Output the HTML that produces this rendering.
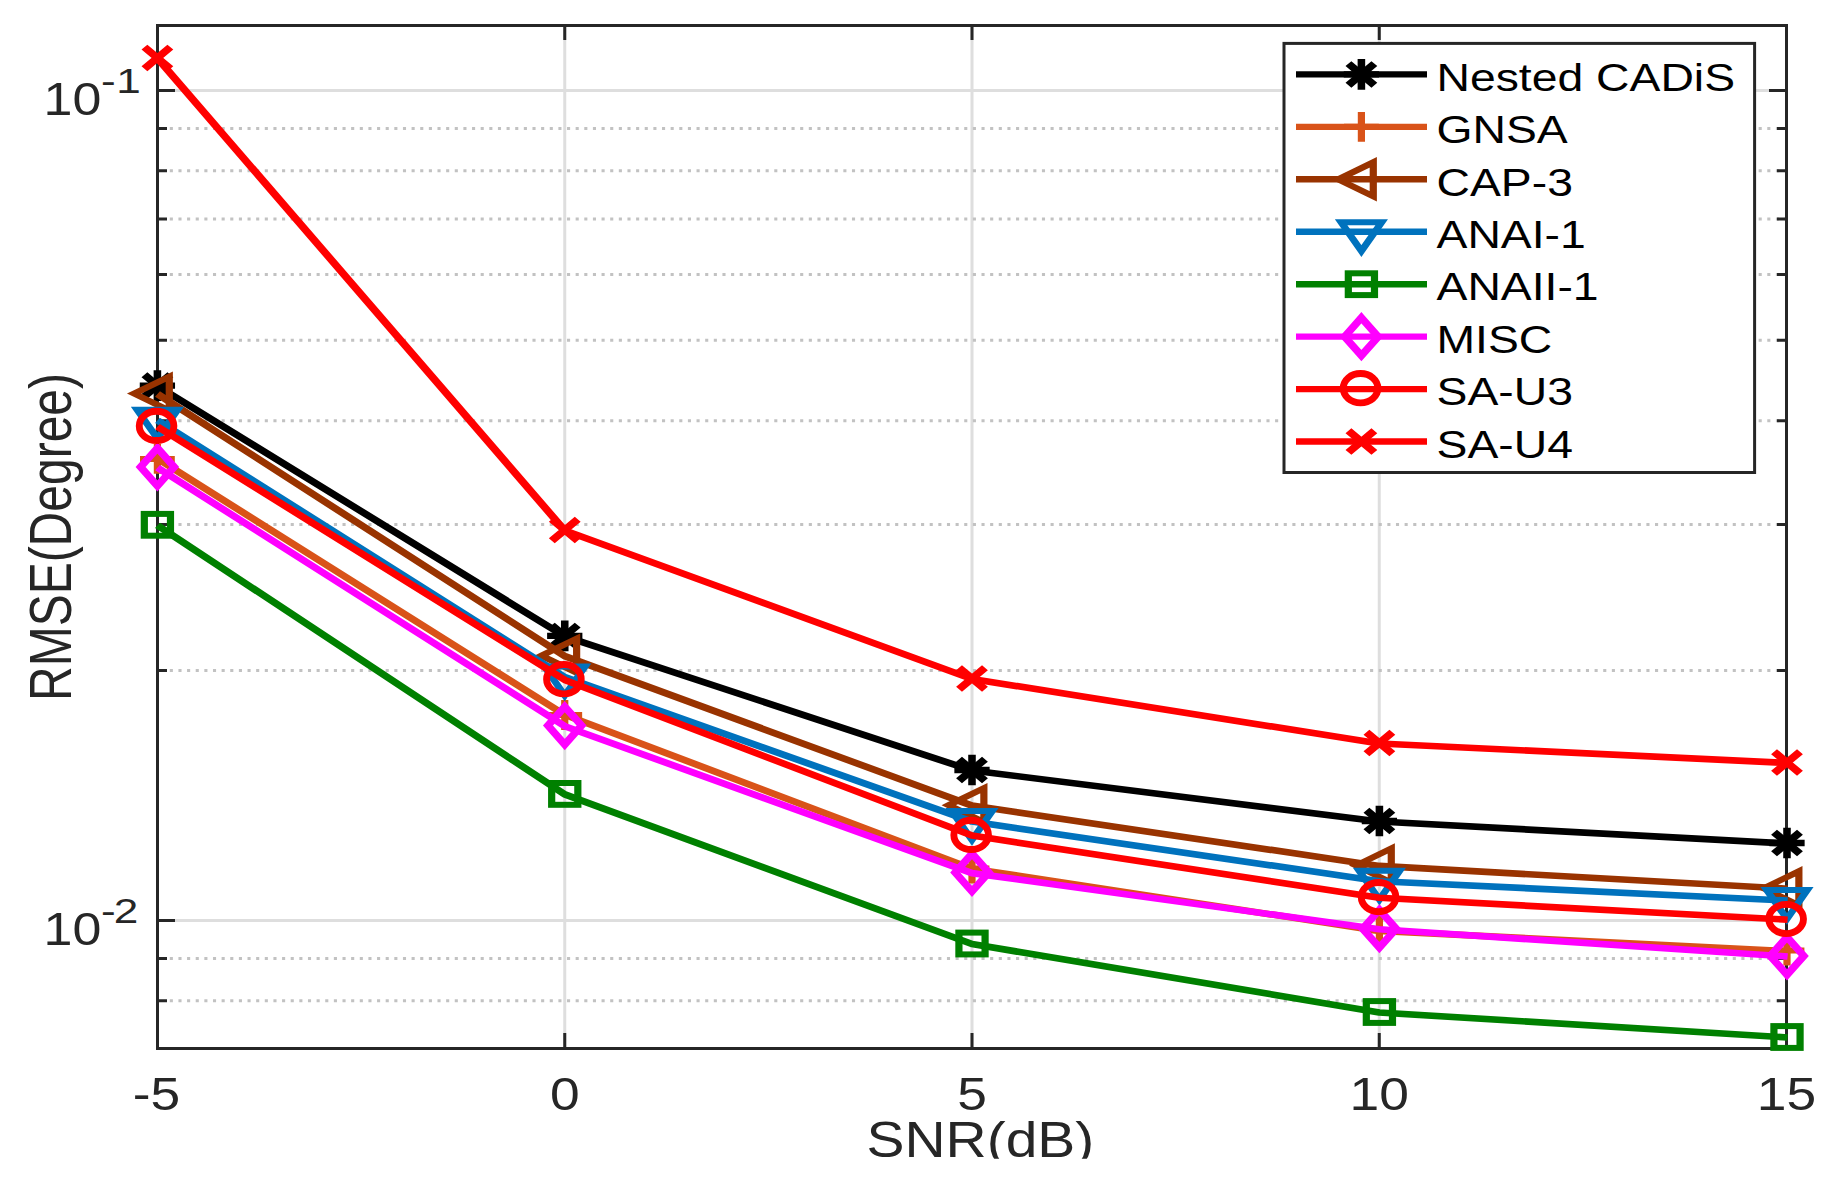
<!DOCTYPE html>
<html lang="en"><head><meta charset="utf-8"><title>RMSE versus SNR</title>
<style>html,body{margin:0;padding:0;background:#fff}svg{display:block}text{font-family:"Liberation Sans",sans-serif}</style></head><body>
<svg width="1830" height="1181" viewBox="0 0 1830 1181">
<rect width="1830" height="1181" fill="#fff"/>
<g stroke="#dedede" stroke-width="3" fill="none">
<path d="M564.75,25.5V1048.5"/>
<path d="M972.00,25.5V1048.5"/>
<path d="M1379.25,25.5V1048.5"/>
<path d="M157.5,90.40H1786.5"/>
<path d="M157.5,920.40H1786.5"/>
</g>
<g stroke="#c2c2c2" stroke-width="3" fill="none" stroke-dasharray="3.1 5.535">
<path d="M169.8,670.55H1786.5"/>
<path d="M169.8,524.39H1786.5"/>
<path d="M169.8,420.69H1786.5"/>
<path d="M169.8,340.25H1786.5"/>
<path d="M169.8,274.53H1786.5"/>
<path d="M169.8,218.97H1786.5"/>
<path d="M169.8,170.84H1786.5"/>
<path d="M169.8,128.38H1786.5"/>
<path d="M169.8,1000.84H1786.5"/>
<path d="M169.8,958.38H1786.5"/>
</g>
<g stroke="#262626" stroke-width="3" fill="none">
<path d="M564.75,1048.5v-15.5M564.75,25.5v14.5"/>
<path d="M972.00,1048.5v-15.5M972.00,25.5v14.5"/>
<path d="M1379.25,1048.5v-15.5M1379.25,25.5v14.5"/>
<path d="M157.5,90.40h17.5M1786.5,90.40h-17.5"/>
<path d="M157.5,920.40h17.5M1786.5,920.40h-17.5"/>
<path d="M157.5,670.55h9.5M1786.5,670.55h-9.5"/>
<path d="M157.5,524.39h9.5M1786.5,524.39h-9.5"/>
<path d="M157.5,420.69h9.5M1786.5,420.69h-9.5"/>
<path d="M157.5,340.25h9.5M1786.5,340.25h-9.5"/>
<path d="M157.5,274.53h9.5M1786.5,274.53h-9.5"/>
<path d="M157.5,218.97h9.5M1786.5,218.97h-9.5"/>
<path d="M157.5,170.84h9.5M1786.5,170.84h-9.5"/>
<path d="M157.5,128.38h9.5M1786.5,128.38h-9.5"/>
<path d="M157.5,1000.84h9.5M1786.5,1000.84h-9.5"/>
<path d="M157.5,958.38h9.5M1786.5,958.38h-9.5"/>
<rect x="157.5" y="25.5" width="1629.0" height="1023.0"/>
</g>
<g><polyline transform="scale(1.2,1)" points="131.25,386.10 470.62,636.40 810.00,770.50 1149.38,821.50 1489.67,843.50" fill="none" stroke="#000000" stroke-width="6.65" stroke-linejoin="round"/>
<g transform="translate(157.40,385.60) scale(1.2,1)" fill="none" stroke="#000000" stroke-width="6.0" stroke-linejoin="miter" stroke-miterlimit="10"><path d="M0,-15.3V15.3M-14.7,0H14.7" stroke-width="6.3"/><path d="M-10.8,-10.8L10.8,10.8M-10.8,10.8L10.8,-10.8" stroke-width="6.9"/></g>
<g transform="translate(564.75,635.90) scale(1.2,1)" fill="none" stroke="#000000" stroke-width="6.0" stroke-linejoin="miter" stroke-miterlimit="10"><path d="M0,-15.3V15.3M-14.7,0H14.7" stroke-width="6.3"/><path d="M-10.8,-10.8L10.8,10.8M-10.8,10.8L10.8,-10.8" stroke-width="6.9"/></g>
<g transform="translate(972.00,770.00) scale(1.2,1)" fill="none" stroke="#000000" stroke-width="6.0" stroke-linejoin="miter" stroke-miterlimit="10"><path d="M0,-15.3V15.3M-14.7,0H14.7" stroke-width="6.3"/><path d="M-10.8,-10.8L10.8,10.8M-10.8,10.8L10.8,-10.8" stroke-width="6.9"/></g>
<g transform="translate(1379.40,821.00) scale(1.2,1)" fill="none" stroke="#000000" stroke-width="6.0" stroke-linejoin="miter" stroke-miterlimit="10"><path d="M0,-15.3V15.3M-14.7,0H14.7" stroke-width="6.3"/><path d="M-10.8,-10.8L10.8,10.8M-10.8,10.8L10.8,-10.8" stroke-width="6.9"/></g>
<g transform="translate(1787.00,843.00) scale(1.2,1)" fill="none" stroke="#000000" stroke-width="6.0" stroke-linejoin="miter" stroke-miterlimit="10"><path d="M0,-15.3V15.3M-14.7,0H14.7" stroke-width="6.3"/><path d="M-10.8,-10.8L10.8,10.8M-10.8,10.8L10.8,-10.8" stroke-width="6.9"/></g>
</g>
<g><polyline transform="scale(1.2,1)" points="131.25,458.70 470.62,714.80 810.00,868.70 1149.38,930.90 1489.67,951.20" fill="none" stroke="#D95319" stroke-width="6.65" stroke-linejoin="round"/>
<g transform="translate(157.40,458.90) scale(1.2,1)" fill="none" stroke="#D95319" stroke-width="6.0" stroke-linejoin="miter" stroke-miterlimit="10"><path d="M0,-14.9V14.9M-14.5,0H14.5"/></g>
<g transform="translate(564.75,715.00) scale(1.2,1)" fill="none" stroke="#D95319" stroke-width="6.0" stroke-linejoin="miter" stroke-miterlimit="10"><path d="M0,-14.9V14.9M-14.5,0H14.5"/></g>
<g transform="translate(972.00,868.50) scale(1.2,1)" fill="none" stroke="#D95319" stroke-width="6.0" stroke-linejoin="miter" stroke-miterlimit="10"><path d="M0,-14.9V14.9M-14.5,0H14.5"/></g>
<g transform="translate(1379.40,930.30) scale(1.2,1)" fill="none" stroke="#D95319" stroke-width="6.0" stroke-linejoin="miter" stroke-miterlimit="10"><path d="M0,-14.9V14.9M-14.5,0H14.5"/></g>
<g transform="translate(1787.00,950.60) scale(1.2,1)" fill="none" stroke="#D95319" stroke-width="6.0" stroke-linejoin="miter" stroke-miterlimit="10"><path d="M0,-14.9V14.9M-14.5,0H14.5"/></g>
</g>
<g><polyline transform="scale(1.2,1)" points="131.25,394.00 470.62,656.10 810.00,805.60 1149.38,865.90 1489.67,888.70" fill="none" stroke="#993300" stroke-width="6.65" stroke-linejoin="round"/>
<g transform="translate(157.40,393.60) scale(1.2,1)" fill="none" stroke="#993300" stroke-width="6.0" stroke-linejoin="miter" stroke-miterlimit="10"><path d="M-19.4,0L9.9,-17.0V17.0Z"/></g>
<g transform="translate(564.75,655.70) scale(1.2,1)" fill="none" stroke="#993300" stroke-width="6.0" stroke-linejoin="miter" stroke-miterlimit="10"><path d="M-19.4,0L9.9,-17.0V17.0Z"/></g>
<g transform="translate(972.00,805.20) scale(1.2,1)" fill="none" stroke="#993300" stroke-width="6.0" stroke-linejoin="miter" stroke-miterlimit="10"><path d="M-19.4,0L9.9,-17.0V17.0Z"/></g>
<g transform="translate(1379.40,865.50) scale(1.2,1)" fill="none" stroke="#993300" stroke-width="6.0" stroke-linejoin="miter" stroke-miterlimit="10"><path d="M-19.4,0L9.9,-17.0V17.0Z"/></g>
<g transform="translate(1787.00,888.30) scale(1.2,1)" fill="none" stroke="#993300" stroke-width="6.0" stroke-linejoin="miter" stroke-miterlimit="10"><path d="M-19.4,0L9.9,-17.0V17.0Z"/></g>
</g>
<g><polyline transform="scale(1.2,1)" points="131.25,420.30 470.62,677.10 810.00,821.60 1149.38,881.20 1489.67,900.60" fill="none" stroke="#0072BD" stroke-width="6.65" stroke-linejoin="round"/>
<g transform="translate(157.40,419.30) scale(1.2,1)" fill="none" stroke="#0072BD" stroke-width="6.0" stroke-linejoin="miter" stroke-miterlimit="10"><path d="M0,19.3L-16.9,-9.5H16.9Z"/></g>
<g transform="translate(564.75,676.10) scale(1.2,1)" fill="none" stroke="#0072BD" stroke-width="6.0" stroke-linejoin="miter" stroke-miterlimit="10"><path d="M0,19.3L-16.9,-9.5H16.9Z"/></g>
<g transform="translate(972.00,820.60) scale(1.2,1)" fill="none" stroke="#0072BD" stroke-width="6.0" stroke-linejoin="miter" stroke-miterlimit="10"><path d="M0,19.3L-16.9,-9.5H16.9Z"/></g>
<g transform="translate(1379.40,880.20) scale(1.2,1)" fill="none" stroke="#0072BD" stroke-width="6.0" stroke-linejoin="miter" stroke-miterlimit="10"><path d="M0,19.3L-16.9,-9.5H16.9Z"/></g>
<g transform="translate(1787.00,899.60) scale(1.2,1)" fill="none" stroke="#0072BD" stroke-width="6.0" stroke-linejoin="miter" stroke-miterlimit="10"><path d="M0,19.3L-16.9,-9.5H16.9Z"/></g>
</g>
<g><polyline transform="scale(1.2,1)" points="131.25,525.30 470.62,794.40 810.00,944.00 1149.38,1012.50 1489.67,1037.50" fill="none" stroke="#008000" stroke-width="6.65" stroke-linejoin="round"/>
<g transform="translate(157.40,524.80) scale(1.2,1)" fill="none" stroke="#008000" stroke-width="6.0" stroke-linejoin="miter" stroke-miterlimit="10"><rect x="-10.9" y="-10.9" width="21.8" height="21.8"/></g>
<g transform="translate(564.75,793.90) scale(1.2,1)" fill="none" stroke="#008000" stroke-width="6.0" stroke-linejoin="miter" stroke-miterlimit="10"><rect x="-10.9" y="-10.9" width="21.8" height="21.8"/></g>
<g transform="translate(972.00,943.50) scale(1.2,1)" fill="none" stroke="#008000" stroke-width="6.0" stroke-linejoin="miter" stroke-miterlimit="10"><rect x="-10.9" y="-10.9" width="21.8" height="21.8"/></g>
<g transform="translate(1379.40,1012.00) scale(1.2,1)" fill="none" stroke="#008000" stroke-width="6.0" stroke-linejoin="miter" stroke-miterlimit="10"><rect x="-10.9" y="-10.9" width="21.8" height="21.8"/></g>
<g transform="translate(1787.00,1037.00) scale(1.2,1)" fill="none" stroke="#008000" stroke-width="6.0" stroke-linejoin="miter" stroke-miterlimit="10"><rect x="-10.9" y="-10.9" width="21.8" height="21.8"/></g>
</g>
<g><polyline transform="scale(1.2,1)" points="131.25,467.60 470.62,726.20 810.00,873.10 1149.38,929.30 1489.67,956.50" fill="none" stroke="#FF00FF" stroke-width="6.65" stroke-linejoin="round"/>
<g transform="translate(157.40,467.00) scale(1.2,1)" fill="none" stroke="#FF00FF" stroke-width="6.0" stroke-linejoin="miter" stroke-miterlimit="10"><path d="M0,-18.9L14,0L0,18.9L-14,0Z" stroke-width="6.7"/></g>
<g transform="translate(564.75,725.60) scale(1.2,1)" fill="none" stroke="#FF00FF" stroke-width="6.0" stroke-linejoin="miter" stroke-miterlimit="10"><path d="M0,-18.9L14,0L0,18.9L-14,0Z" stroke-width="6.7"/></g>
<g transform="translate(972.00,872.50) scale(1.2,1)" fill="none" stroke="#FF00FF" stroke-width="6.0" stroke-linejoin="miter" stroke-miterlimit="10"><path d="M0,-18.9L14,0L0,18.9L-14,0Z" stroke-width="6.7"/></g>
<g transform="translate(1379.40,928.70) scale(1.2,1)" fill="none" stroke="#FF00FF" stroke-width="6.0" stroke-linejoin="miter" stroke-miterlimit="10"><path d="M0,-18.9L14,0L0,18.9L-14,0Z" stroke-width="6.7"/></g>
<g transform="translate(1787.00,955.90) scale(1.2,1)" fill="none" stroke="#FF00FF" stroke-width="6.0" stroke-linejoin="miter" stroke-miterlimit="10"><path d="M0,-18.9L14,0L0,18.9L-14,0Z" stroke-width="6.7"/></g>
</g>
<g><polyline transform="scale(1.2,1)" points="131.25,426.60 470.62,679.90 810.00,835.60 1149.38,897.80 1489.67,919.70" fill="none" stroke="#FF0000" stroke-width="6.65" stroke-linejoin="round"/>
<g transform="translate(157.40,425.90) scale(1.2,1)" fill="none" stroke="#FF0000" stroke-width="6.0" stroke-linejoin="miter" stroke-miterlimit="10"><ellipse cx="-0.7" cy="0" rx="14.417" ry="14.65" stroke-width="6.9" vector-effect="non-scaling-stroke"/></g>
<g transform="translate(564.75,679.20) scale(1.2,1)" fill="none" stroke="#FF0000" stroke-width="6.0" stroke-linejoin="miter" stroke-miterlimit="10"><ellipse cx="-0.7" cy="0" rx="14.417" ry="14.65" stroke-width="6.9" vector-effect="non-scaling-stroke"/></g>
<g transform="translate(972.00,834.90) scale(1.2,1)" fill="none" stroke="#FF0000" stroke-width="6.0" stroke-linejoin="miter" stroke-miterlimit="10"><ellipse cx="-0.7" cy="0" rx="14.417" ry="14.65" stroke-width="6.9" vector-effect="non-scaling-stroke"/></g>
<g transform="translate(1379.40,897.10) scale(1.2,1)" fill="none" stroke="#FF0000" stroke-width="6.0" stroke-linejoin="miter" stroke-miterlimit="10"><ellipse cx="-0.7" cy="0" rx="14.417" ry="14.65" stroke-width="6.9" vector-effect="non-scaling-stroke"/></g>
<g transform="translate(1787.00,919.00) scale(1.2,1)" fill="none" stroke="#FF0000" stroke-width="6.0" stroke-linejoin="miter" stroke-miterlimit="10"><ellipse cx="-0.7" cy="0" rx="14.417" ry="14.65" stroke-width="6.9" vector-effect="non-scaling-stroke"/></g>
</g>
<g><polyline transform="scale(1.2,1)" points="131.25,58.40 470.62,530.50 810.00,679.00 1149.38,743.50 1489.67,763.00" fill="none" stroke="#FF0000" stroke-width="6.65" stroke-linejoin="round"/>
<g transform="translate(157.40,57.90) scale(1.2,1)" fill="none" stroke="#FF0000" stroke-width="6.0" stroke-linejoin="miter" stroke-miterlimit="10"><path d="M-10.8,-10.8L10.8,10.8M-10.8,10.8L10.8,-10.8" stroke-width="6.9"/></g>
<g transform="translate(564.75,530.00) scale(1.2,1)" fill="none" stroke="#FF0000" stroke-width="6.0" stroke-linejoin="miter" stroke-miterlimit="10"><path d="M-10.8,-10.8L10.8,10.8M-10.8,10.8L10.8,-10.8" stroke-width="6.9"/></g>
<g transform="translate(972.00,678.50) scale(1.2,1)" fill="none" stroke="#FF0000" stroke-width="6.0" stroke-linejoin="miter" stroke-miterlimit="10"><path d="M-10.8,-10.8L10.8,10.8M-10.8,10.8L10.8,-10.8" stroke-width="6.9"/></g>
<g transform="translate(1379.40,743.00) scale(1.2,1)" fill="none" stroke="#FF0000" stroke-width="6.0" stroke-linejoin="miter" stroke-miterlimit="10"><path d="M-10.8,-10.8L10.8,10.8M-10.8,10.8L10.8,-10.8" stroke-width="6.9"/></g>
<g transform="translate(1787.00,762.50) scale(1.2,1)" fill="none" stroke="#FF0000" stroke-width="6.0" stroke-linejoin="miter" stroke-miterlimit="10"><path d="M-10.8,-10.8L10.8,10.8M-10.8,10.8L10.8,-10.8" stroke-width="6.9"/></g>
</g>
<rect x="1284.0" y="43.4" width="470.5999999999999" height="429.1" fill="#fff" stroke="#262626" stroke-width="3"/>
<path d="M1296,74.40H1427" stroke="#000000" stroke-width="6.4" fill="none"/>
<g transform="translate(1361.40,74.40) scale(1.2,1)" fill="none" stroke="#000000" stroke-width="6.0" stroke-linejoin="miter" stroke-miterlimit="10"><path d="M0,-15.3V15.3M-14.7,0H14.7" stroke-width="6.3"/><path d="M-10.8,-10.8L10.8,10.8M-10.8,10.8L10.8,-10.8" stroke-width="6.9"/></g>
<text transform="translate(1436.5,90.60) scale(1.2,1)" font-size="38.6" fill="#000">Nested CADiS</text>
<path d="M1296,126.85H1427" stroke="#D95319" stroke-width="6.4" fill="none"/>
<g transform="translate(1361.40,126.85) scale(1.2,1)" fill="none" stroke="#D95319" stroke-width="6.0" stroke-linejoin="miter" stroke-miterlimit="10"><path d="M0,-14.9V14.9M-14.5,0H14.5"/></g>
<text transform="translate(1436.5,143.05) scale(1.2,1)" font-size="38.6" fill="#000">GNSA</text>
<path d="M1296,179.30H1427" stroke="#993300" stroke-width="6.4" fill="none"/>
<g transform="translate(1361.40,179.30) scale(1.2,1)" fill="none" stroke="#993300" stroke-width="6.0" stroke-linejoin="miter" stroke-miterlimit="10"><path d="M-19.4,0L9.9,-17.0V17.0Z"/></g>
<text transform="translate(1436.5,195.50) scale(1.2,1)" font-size="38.6" fill="#000">CAP-3</text>
<path d="M1296,231.75H1427" stroke="#0072BD" stroke-width="6.4" fill="none"/>
<g transform="translate(1361.40,231.75) scale(1.2,1)" fill="none" stroke="#0072BD" stroke-width="6.0" stroke-linejoin="miter" stroke-miterlimit="10"><path d="M0,19.3L-16.9,-9.5H16.9Z"/></g>
<text transform="translate(1436.5,247.95) scale(1.2,1)" font-size="38.6" fill="#000">ANAI-1</text>
<path d="M1296,284.20H1427" stroke="#008000" stroke-width="6.4" fill="none"/>
<g transform="translate(1361.40,284.20) scale(1.2,1)" fill="none" stroke="#008000" stroke-width="6.0" stroke-linejoin="miter" stroke-miterlimit="10"><rect x="-10.9" y="-10.9" width="21.8" height="21.8"/></g>
<text transform="translate(1436.5,300.40) scale(1.2,1)" font-size="38.6" fill="#000">ANAII-1</text>
<path d="M1296,336.65H1427" stroke="#FF00FF" stroke-width="6.4" fill="none"/>
<g transform="translate(1361.40,336.65) scale(1.2,1)" fill="none" stroke="#FF00FF" stroke-width="6.0" stroke-linejoin="miter" stroke-miterlimit="10"><path d="M0,-18.9L14,0L0,18.9L-14,0Z" stroke-width="6.7"/></g>
<text transform="translate(1436.5,352.85) scale(1.2,1)" font-size="38.6" fill="#000">MISC</text>
<path d="M1296,389.10H1427" stroke="#FF0000" stroke-width="6.4" fill="none"/>
<g transform="translate(1361.40,388.20) scale(1.2,1)" fill="none" stroke="#FF0000" stroke-width="6.0" stroke-linejoin="miter" stroke-miterlimit="10"><ellipse cx="-0.7" cy="0" rx="14.417" ry="14.65" stroke-width="6.9" vector-effect="non-scaling-stroke"/></g>
<text transform="translate(1436.5,405.30) scale(1.2,1)" font-size="38.6" fill="#000">SA-U3</text>
<path d="M1296,441.55H1427" stroke="#FF0000" stroke-width="6.4" fill="none"/>
<g transform="translate(1361.40,441.55) scale(1.2,1)" fill="none" stroke="#FF0000" stroke-width="6.0" stroke-linejoin="miter" stroke-miterlimit="10"><path d="M-10.8,-10.8L10.8,10.8M-10.8,10.8L10.8,-10.8" stroke-width="6.9"/></g>
<text transform="translate(1436.5,457.75) scale(1.2,1)" font-size="38.6" fill="#000">SA-U4</text>
<text transform="translate(156.50,1109.7) scale(1.16,1)" font-size="46.0" text-anchor="middle" fill="#262626">-5</text>
<text transform="translate(564.75,1109.7) scale(1.16,1)" font-size="46.0" text-anchor="middle" fill="#262626">0</text>
<text transform="translate(972.00,1109.7) scale(1.16,1)" font-size="46.0" text-anchor="middle" fill="#262626">5</text>
<text transform="translate(1379.25,1109.7) scale(1.16,1)" font-size="46.0" text-anchor="middle" fill="#262626">10</text>
<text transform="translate(1786.50,1109.7) scale(1.16,1)" font-size="46.0" text-anchor="middle" fill="#262626">15</text>
<text transform="translate(101.3,115.30) scale(1.13,1)" font-size="46.0" text-anchor="end" fill="#262626">10</text>
<text transform="translate(101.1,92.90) scale(1.25,1)" font-size="35.3" fill="#262626">-<tspan dx="0.3">1</tspan></text>
<text transform="translate(101.3,945.30) scale(1.13,1)" font-size="46.0" text-anchor="end" fill="#262626">10</text>
<text transform="translate(101.1,922.90) scale(1.25,1)" font-size="35.3" fill="#262626">-<tspan dx="-1.6">2</tspan></text>
<clipPath id="cl"><rect x="800" y="1100" width="400" height="58.8"/></clipPath>
<g clip-path="url(#cl)"><text transform="translate(980.4,1156.7) scale(1.13,1)" font-size="50.4" text-anchor="middle" fill="#262626">SNR(dB)</text></g>
<text transform="translate(70.8,537) scale(1.238,1) rotate(-90)" font-size="48" text-anchor="middle" fill="#262626">RMSE(Degree)</text>
</svg></body></html>
